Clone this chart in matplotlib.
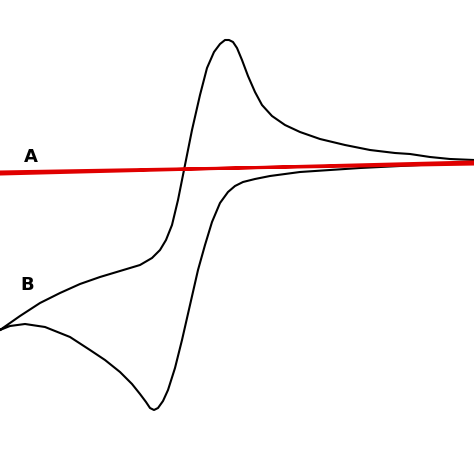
import matplotlib
matplotlib.use("Agg")
import matplotlib.pyplot as plt

# Curve B (black CV loop), potential in arbitrary units, current in arbitrary units
b_fwd_x = [0, 10, 20, 40, 60, 80, 100, 120, 140, 152, 160, 166, 172, 178, 185, 192, 200, 207, 214, 220, 225, 229, 233, 237, 242, 248, 255, 262, 272, 285, 300, 320, 345, 370, 395, 410, 430, 450, 474]
b_fwd_y = [-330, -323, -316, -303, -293, -284, -277, -271, -265, -258, -250, -240, -225, -200, -165, -130, -95, -68, -52, -44, -40, -40, -42, -48, -60, -76, -92, -105, -116, -125, -132, -139, -145, -150, -153, -154, -157, -159, -160]
b_rev_x = [474, 420, 360, 300, 270, 255, 243, 235, 228, 220, 212, 205, 198, 190, 182, 175, 168, 163, 158, 154, 150, 146, 140, 132, 120, 105, 90, 70, 45, 25, 10, 0]
b_rev_y = [-162, -165, -168, -172, -176, -179, -182, -186, -192, -203, -222, -245, -270, -305, -340, -368, -390, -401, -408, -410, -408, -402, -394, -384, -372, -360, -350, -337, -327, -324, -326, -330]
# Curve A (red, nearly flat)
a_x = [0, 474, 474, 0]
a_y = [-174, -162, -164, -172]

fig = plt.figure(figsize=(4.74, 4.74), dpi=100)
ax = fig.add_axes([0, 0, 1, 1])
ax.plot(b_fwd_x + b_rev_x, b_fwd_y + b_rev_y, color="black", lw=1.5)
ax.plot(a_x, a_y, color="#e00000", lw=2.2)
ax.text(24, -157, "A", fontsize=13, fontweight="bold", va="center")
ax.text(20, -285, "B", fontsize=13, fontweight="bold", va="center")
ax.set_xlim(0, 474)
ax.set_ylim(-474, 0)
ax.axis("off")
fig.savefig("out.png", dpi=100, facecolor="white")
